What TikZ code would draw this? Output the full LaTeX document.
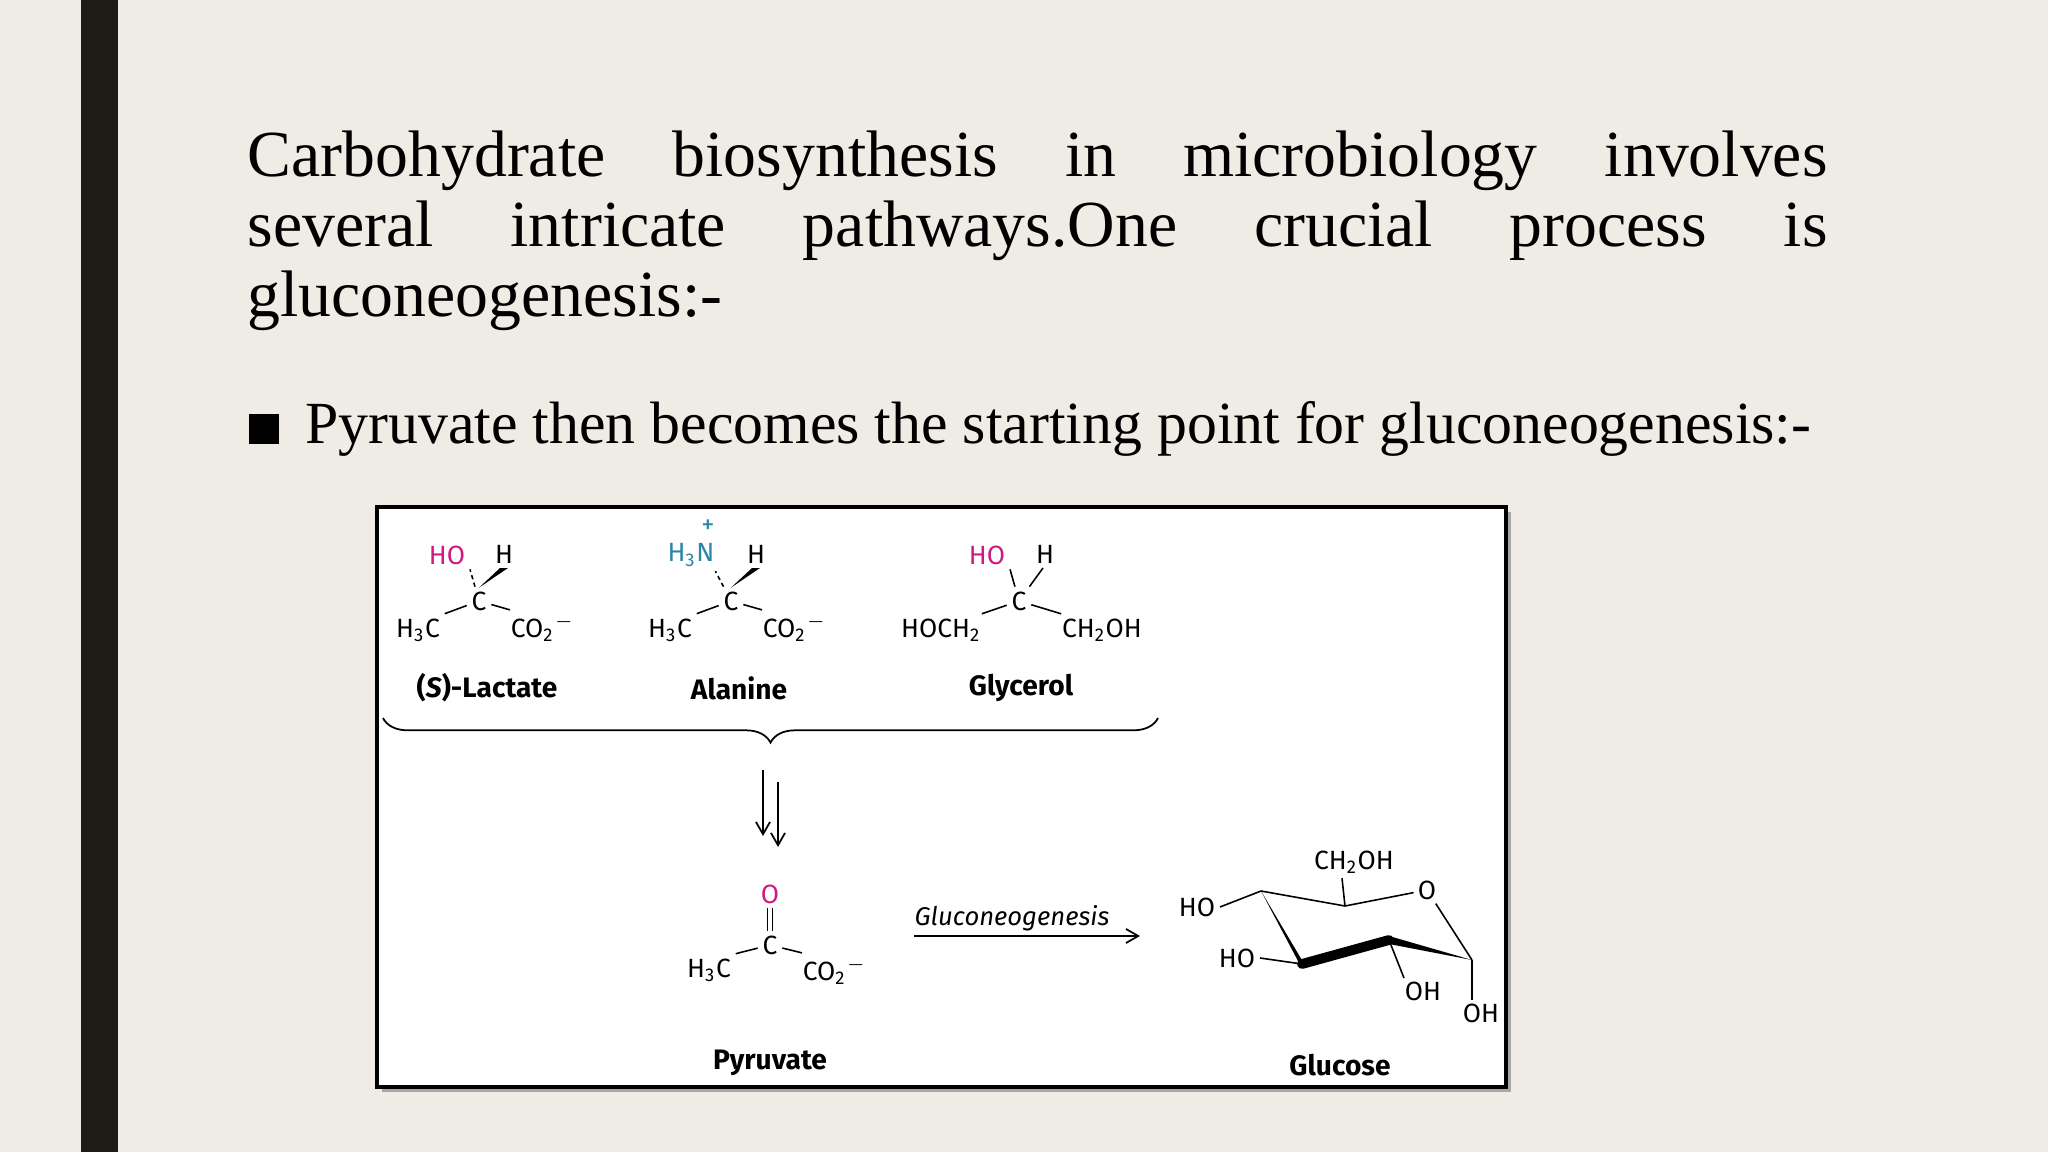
\documentclass[tikz,border=0pt]{standalone}
\usepackage{fontspec}
\setmainfont{Liberation Serif}
\newfontfamily\molf{Fira Sans}
\usetikzlibrary{calc,decorations.pathreplacing,arrows.meta}
\definecolor{bg}{HTML}{EFECE5}
\definecolor{bar}{HTML}{1C1C14}
\definecolor{mag}{HTML}{D0187F}
\definecolor{teal}{HTML}{2A86A6}
\newcommand{\sbs}[1]{\textsubscript{#1}}
\newcommand{\sps}[1]{\textsuperscript{#1}}
\begin{document}
\begin{tikzpicture}[x=0.01cm,y=-0.01cm,
  atom/.style={font=\molf\fontsize{7.5}{8}\selectfont,inner sep=1.2pt},
  lbl/.style={font=\molf\bfseries\fontsize{8}{9}\selectfont,inner sep=0pt},
  bond/.style={line width=0.45pt},
  dbond/.style={line width=0.45pt,dash pattern=on 1.2pt off 1pt},
  arr/.style={line width=0.5pt,-{Straight Barb[length=3.5pt,width=4pt]}}]
\useasboundingbox (0,0) rectangle (2048,1152);
\fill[bg] (0,0) rectangle (2048,1152);
\fill[bar] (81,0) rectangle (118,1152);
\node[anchor=north west,inner sep=0pt,text width=15.79cm,align=justify,
  font=\fontsize{18.7}{19.9}\selectfont] (title) at (247,130)
  {Carbohydrate biosynthesis in microbiology involves\linebreak several intricate pathways.One crucial process is\linebreak gluconeogenesis:-};
\node[anchor=base west,inner sep=0pt,font=\fontsize{17}{18}\selectfont] (bul) at (248,444)
  {\rule{0.5em}{0.5em}\hspace{0.45em}Pyruvate then becomes the starting point for gluconeogenesis:-};
% box
\fill[black!35] (382,512) rectangle (1511,1092);
\draw[line width=1.4pt,fill=white] (377,507) rectangle (1506,1087);
% Lactate
\node[atom,text=mag] (lHO) at (447,555) {HO};
\node[atom] (lH) at (504,554) {H};
\node[atom] (lC) at (479,601) {C};
\node[atom] (lM) at (418,630) {H\sbs{3}C};
\node[atom] (lR) at (543,628) {CO\sbs{2}\sps{$-$}};
\draw[bond] (lC) -- (lM.north east);
\draw[bond] (lC) -- ($(lR.north west)+(4,0)$);
\draw[dbond] (lC) -- (lHO.south east);
\fill ($(lC.north)+(0,1)$) -- ($(lH.south)+(-4,0)$) -- ($(lH.south)+(4,0)$) -- cycle;
\node[lbl] (lL) at (487,688) {(\textit{S})-Lactate};
% Alanine
\node[atom,text=teal] (aN) at (691,555) {H\sbs{3}N};
\node[atom,text=teal,inner sep=0pt] (aP) at (708,527) {+};
\node[atom] (aH) at (756,554) {H};
\node[atom] (aC) at (731,601) {C};
\node[atom] (aM) at (670,630) {H\sbs{3}C};
\node[atom] (aR) at (795,628) {CO\sbs{2}\sps{$-$}};
\draw[bond] (aC) -- (aM.north east);
\draw[bond] (aC) -- ($(aR.north west)+(4,0)$);
\draw[dbond] (aC) -- ($(aN.south east)+(-4,0)$);
\fill ($(aC.north)+(0,1)$) -- ($(aH.south)+(-4,0)$) -- ($(aH.south)+(4,0)$) -- cycle;
\node[lbl] (aL) at (739,688) {Alanine};
% Glycerol
\node[atom,text=mag] (gHO) at (987,555) {HO};
\node[atom] (gH) at (1045,554) {H};
\node[atom] (gC) at (1019,601) {C};
\node[atom] (gM) at (941,630) {HOCH\sbs{2}};
\node[atom] (gR) at (1102,630) {CH\sbs{2}OH};
\draw[bond] (gC) -- ($(gM.north east)+(-4,0)$);
\draw[bond] (gC) -- ($(gR.north west)+(4,0)$);
\draw[bond] (gC) -- (gHO.south east);
\draw[bond] (gC) -- ($(gH.south)+(-2,0)$);
\node[lbl] (gL) at (1021,688) {Glycerol};
% brace
\coordinate (bl) at (383,718);
\coordinate (br) at (1158,718);
\draw[line width=0.5pt,decorate,decoration={brace,amplitude=7pt,mirror}] (bl) -- (br);
% double arrow
\coordinate (d1a) at (763,770); \coordinate (d1b) at (763,836);
\coordinate (d2a) at (778,782); \coordinate (d2b) at (778,847);
\draw[arr] (d1a) -- (d1b);
\draw[arr] (d2a) -- (d2b);
% Pyruvate
\node[atom,text=mag] (pO) at (770,894) {O};
\node[atom] (pC) at (770,945) {C};
\node[atom] (pM) at (709,970) {H\sbs{3}C};
\node[atom] (pR) at (835,971) {CO\sbs{2}\sps{$-$}};
\draw[bond] ($(pO.south)+(-2.5,0)$) -- ($(pC.north)+(-2.5,0)$);
\draw[bond] ($(pO.south)+(2.5,0)$) -- ($(pC.north)+(2.5,0)$);
\draw[bond] (pC) -- (pM.north east);
\draw[bond] (pC) -- ($(pR.north west)+(4,0)$);
\node[lbl] (pL) at (770,1063) {Pyruvate};
% gluconeogenesis arrow
\coordinate (ga) at (914,936); \coordinate (gb) at (1140,936);
\draw[arr] (ga) -- (gb);
\node[atom,font=\molf\itshape\fontsize{7.3}{8}\selectfont] (gl) at (1012,918) {Gluconeogenesis};
% Glucose
\coordinate (c4) at (1261,891);
\coordinate (c5) at (1345,906);
\node[atom,inner sep=1pt] (rO) at (1427,890) {O};
\coordinate (c1) at (1472,960);
\coordinate (c2) at (1389,940);
\coordinate (c3) at (1302,964);
\draw[bond] (c4) -- (c5) -- (rO) -- (c1);
\fill (c4) -- ($(c3)+(-4,-3)$) -- ($(c3)+(4,3)$) -- cycle;
\draw[line width=2.8pt,line cap=round] (c3) -- (c2);
\fill ($(c2)+(0,-4)$) -- ($(c2)+(0,4)$) -- (c1) -- cycle;
\node[atom] (sHO4) at (1197,907) {HO};
\node[atom] (sCH) at (1354,862) {CH\sbs{2}OH};
\node[atom] (sHO3) at (1237,958) {HO};
\node[atom] (sOH2) at (1423,991) {OH};
\node[atom] (sOH1) at (1481,1013) {OH};
\coordinate (e2) at (1404,978);
\coordinate (e1) at (1472,1000);
\draw[bond] (c4) -- (sHO4.east);
\draw[bond] (c5) -- ($(sCH.south)+(-12,0)$);
\draw[bond] (c3) -- (sHO3.east);
\draw[bond] (c2) -- (e2);
\draw[bond] (c1) -- (e1);
\node[lbl] (glL) at (1340,1065) {Glucose};
\end{tikzpicture}
\end{document}
